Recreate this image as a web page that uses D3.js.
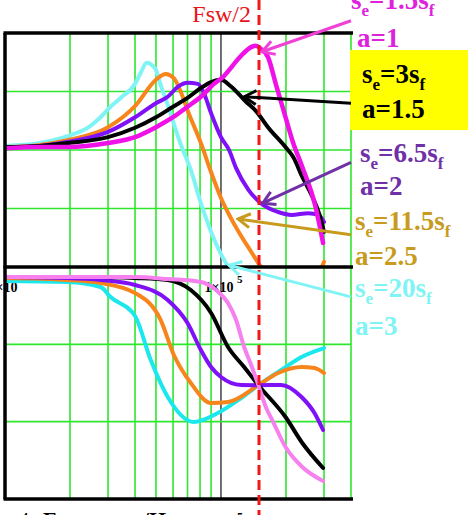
<!DOCTYPE html>
<html>
<head>
<meta charset="utf-8">
<script src="https://d3js.org/d3.v7.min.js"></script>
<style>
  body { margin: 0; background: #fff; }
  text { font-family: "Liberation Serif", "Times New Roman", serif; font-weight: bold; }
</style>
</head>
<body>
<svg width="468" height="515"></svg>
<script>
// frequencies in kHz, magnitude in dB (grid = 10 dB), phase in degrees
const cyanMagF = [10,14.5,19.6,24.8,27.7,30.8,34.3,40,42.5,45.3,48.3,50,52.6,56.7,61.8,65.2,72.5,80.7,90,100,109,124];
const cyanMag  = [0.7,1.2,2.4,4.1,5.6,7.4,8.9,11.3,13.2,14.9,14.4,13.7,11.1,7.7,3.4,0.9,-3.4,-9.1,-14.0,-17.8,-20.2,-24];
const orangeMagF = [10,14.5,19.6,30,40,50,55.5,60.5,65.2,70,80.7,90,100,111,124,138,153,180,236,277,300];
const orangeMag  = [0.5,0.85,1.7,3.9,7.5,12.0,13.0,12.3,9.9,6.8,1.2,-3.8,-8.2,-11.6,-14.7,-17.4,-20.0,-23.1,-23.6,-21.9,-19.1];
const purpleMagF = [10,14.5,19.6,30,40,50,56.7,63.1,70,78.2,83.4,90,100,109,117.5,134,153,184,212,254,283,300];
const purpleMag  = [0.5,0.7,1.4,3.1,5.6,8.0,9.1,10.8,11.5,11.3,9.7,6.3,2.2,0,-3.1,-6.8,-9.1,-10.6,-11.1,-10.8,-11.1,-12.3];
const blackMagF = [10,14.5,19.6,30,40,50,60,70,80.7,90,100,111,131,145,165,199,216,238,265,286,300];
const blackMag  = [0.5,0.7,1.2,2.2,3.8,5.6,7.4,8.9,10.6,11.6,12.0,10.9,8.2,6.7,3.9,0.5,-1.2,-4.6,-8.0,-11.1,-14.0];
const magentaMagF = [10,14.5,19.6,30,40,50,60,70,80.7,92.8,103,111,116,124,134,145,153,165,180,199,216,238,274,297];
const magentaMag  = [0.3,0.5,0.5,1.2,2.2,3.9,5.6,7.4,9.1,11.3,12.6,14.0,14.9,16.1,17.3,17.8,17.3,15.9,11.1,5.6,1.2,-2.9,-9.7,-15.9];

const cyanPhF = [10,19.4,27.7,30.8,40,47.3,56.7,74.9,96.8,124,149,190,236,300];
const cyanPh  = [-16.3,-17.5,-23.3,-34.9,-57,-108.2,-151.3,-180.4,-169.9,-152.5,-137.5,-119.9,-104.7,-94.3];
const orangePhF = [10,19.4,27.7,40,52.6,60.5,72.5,90,107.8,149,184,236,271,300];
const orangePh  = [-12.8,-15.1,-18.6,-30.3,-61.7,-102.4,-135,-158.3,-157.1,-137.5,-123.4,-116.4,-117.5,-123.4];
const purplePhF = [10,19.4,27.7,40,56.7,70,80.7,90,100,124,149,190,236,271,297];
const purplePh  = [-11.6,-12.8,-15.1,-20.9,-38.4,-65.2,-96.6,-116.4,-128,-137.3,-137.5,-137.3,-151.3,-169.9,-189.7];
const blackPhF = [10,27.7,40,56.7,72.5,90,107.8,128,149,199,238,297];
const blackPh  = [-11.6,-11.6,-12.8,-15.1,-26.8,-53.5,-93.1,-116.4,-137.5,-174.6,-204.8,-233.9];
const pinkPhF = [10,27.7,40,56.7,80.7,94.8,107.8,117.5,128,138,149,162,172.7,199,238,297];
const pinkPh  = [-11.6,-11.6,-11.6,-14.0,-17.5,-26.8,-41.9,-61.7,-93.1,-114.1,-137.5,-164.1,-178.1,-209.5,-232.8,-249.1];

const gridFreqs = [20,30,40,50,60,70,80,90,200,300,400];
const magGrid = [-10,0,10];
const phGrid = [-180,-90];
const seLabels = ["1.5","3","6.5","11.5","20"];
const aLabels = ["1","1.5","2","2.5","3"];
// arrow heads [kHz, dB] and tails at the right edge [dB]
const arrowHeads = [[155,16.8],[128,9.1],[156,-9.1],[120,-11.8],[109,-19.7]];
const arrowTails = [22.1,8.0,-2.1,-14.5,-25.1];

const svg = d3.select("svg");
const L = 5, R = 351, T1 = 33, B1 = 267, B2 = 499;

const x = d3.scaleLog().domain([10, 400]).range([L, R]);
const yMag = d3.scaleLinear().domain([-20, 20]).range([B1, T1]);
const yPh = d3.scaleLinear().domain([-270, 0]).range([B2, B1]);

const green = "#2ee62e";
const defs = svg.append("defs");
defs.append("clipPath").attr("id", "clipTop").append("rect")
  .attr("x", L).attr("y", T1).attr("width", R - L).attr("height", B1 - T1);
defs.append("clipPath").attr("id", "clipBot").append("rect")
  .attr("x", L).attr("y", B1).attr("width", R - L).attr("height", B2 - B1);

// grid
const grid = svg.append("g");
grid.selectAll(".vg").data(gridFreqs).enter().append("line")
  .attr("x1", d => x(d)).attr("x2", d => x(d))
  .attr("y1", T1).attr("y2", B2)
  .attr("stroke", green).attr("stroke-width", 1.6);
grid.append("line")
  .attr("x1", x(100)).attr("x2", x(100)).attr("y1", T1).attr("y2", B2)
  .attr("stroke", "#222").attr("stroke-width", 1.3);
grid.selectAll(".hm").data(magGrid).enter().append("line")
  .attr("x1", L).attr("x2", R).attr("y1", d => yMag(d)).attr("y2", d => yMag(d))
  .attr("stroke", green).attr("stroke-width", 1.6);
grid.selectAll(".hp").data(phGrid).enter().append("line")
  .attr("x1", L).attr("x2", R).attr("y1", d => yPh(d)).attr("y2", d => yPh(d))
  .attr("stroke", green).attr("stroke-width", 1.6);

// tick labels between the panels
const tickLab = svg.append("g");
[[10,"4"],[100,"5"]].forEach(function(t) {
  tickLab.append("text").attr("x", x(t[0]) - 2).attr("y", 292)
    .attr("text-anchor", "middle").attr("font-size", 14).text("1×10");
  tickLab.append("text").attr("x", x(t[0]) + 16).attr("y", 283)
    .attr("font-size", 11).text(t[1]);
});

const line = d3.line().curve(d3.curveMonotoneX);

function curve(g, fs, vs, yScale, color, w) {
  g.append("path")
    .attr("d", line(fs.map((f, i) => [x(f), yScale(vs[i])])))
    .attr("fill", "none").attr("stroke", color).attr("stroke-width", w)
    .attr("stroke-linejoin", "round").attr("stroke-linecap", "round");
}

const magPanel = svg.append("g").attr("clip-path", "url(#clipTop)");
curve(magPanel, cyanMagF, cyanMag, yMag, "#80f4f4", 4);
curve(magPanel, orangeMagF, orangeMag, yMag, "#f7851c", 4);
curve(magPanel, purpleMagF, purpleMag, yMag, "#7f10f8", 4);
curve(magPanel, blackMagF, blackMag, yMag, "#000", 4);
curve(magPanel, magentaMagF, magentaMag, yMag, "#f010e8", 4.5);

const phPanel = svg.append("g").attr("clip-path", "url(#clipBot)");
curve(phPanel, cyanPhF, cyanPh, yPh, "#1ae8ec", 4);
curve(phPanel, orangePhF, orangePh, yPh, "#f7851c", 4);
curve(phPanel, purplePhF, purplePh, yPh, "#7f10f8", 4);
curve(phPanel, blackPhF, blackPh, yPh, "#000", 4);
curve(phPanel, pinkPhF, pinkPh, yPh, "#f680ee", 4);

// frame
const frame = svg.append("g").attr("stroke", "#000").attr("stroke-width", 3.5);
[T1, B1, B2].forEach(function(yy) {
  frame.append("line").attr("x1", L - 1.5).attr("x2", R + 2).attr("y1", yy).attr("y2", yy);
});
frame.append("line").attr("x1", L).attr("x2", L).attr("y1", T1).attr("y2", B2);

// Fsw/2
svg.append("line")
  .attr("x1", x(150)).attr("x2", x(150)).attr("y1", 0).attr("y2", 515)
  .attr("stroke", "#f01818").attr("stroke-width", 3)
  .attr("stroke-dasharray", "10,5");
svg.append("text").attr("x", 251).attr("y", 22).attr("text-anchor", "end")
  .attr("font-size", 24).style("font-weight", "normal").attr("fill", "#e8141b")
  .text("Fsw/2");

// bottom axis text (cut by the picture edge)
svg.append("text").attr("x", 22).attr("y", 521).attr("font-size", 12).text("4");
svg.append("text").attr("x", 237).attr("y", 521).attr("font-size", 12).text("5");
svg.append("text").attr("x", 43).attr("y", 527).attr("font-size", 22).text("Frequency/Hz");

// labels
const labColors = ["#dd22dd", "#000", "#7030a8", "#c89b1e", "#80f4f4"];
const arrColors = ["#f040d8", "#000", "#7030a8", "#c89b1e", "#80f4f4"];
const labPos = [[351, 9, 357, 47], [362, 83, 362, 118], [360, 162, 360, 195], [355, 230, 355, 265], [355, 297, 355, 335]];

svg.append("rect").attr("x", 350).attr("y", 50).attr("width", 118).attr("height", 80)
  .attr("fill", "#ffff00");

arrColors.forEach(function(c, i) {
  const m = defs.append("marker").attr("id", "ah" + i)
    .attr("viewBox", "-2 -9 16 18").attr("refX", 0).attr("refY", 0)
    .attr("markerUnits", "userSpaceOnUse").attr("markerWidth", 16).attr("markerHeight", 18)
    .attr("orient", "auto");
  m.append("path").attr("d", "M12,-7 L0,0 L12,7").attr("fill", "none")
    .attr("stroke", c).attr("stroke-width", 3);
  svg.append("line")
    .attr("x1", x(arrowHeads[i][0])).attr("y1", yMag(arrowHeads[i][1]))
    .attr("x2", R).attr("y2", yMag(arrowTails[i]))
    .attr("stroke", c).attr("stroke-width", 3)
    .attr("marker-start", "url(#ah" + i + ")");
});

seLabels.forEach(function(s, i) {
  const p = labPos[i];
  const t = svg.append("text").attr("x", p[0]).attr("y", p[1])
    .attr("font-size", 27).attr("fill", labColors[i]);
  t.append("tspan").text("s");
  t.append("tspan").attr("font-size", 17).attr("dy", 7).text("e");
  t.append("tspan").attr("dy", -7).text("=" + s + "s");
  t.append("tspan").attr("font-size", 17).attr("dy", 7).text("f");
  svg.append("text").attr("x", p[2]).attr("y", p[3])
    .attr("font-size", 27).attr("fill", labColors[i]).text("a=" + aLabels[i]);
});
</script>
</body>
</html>
